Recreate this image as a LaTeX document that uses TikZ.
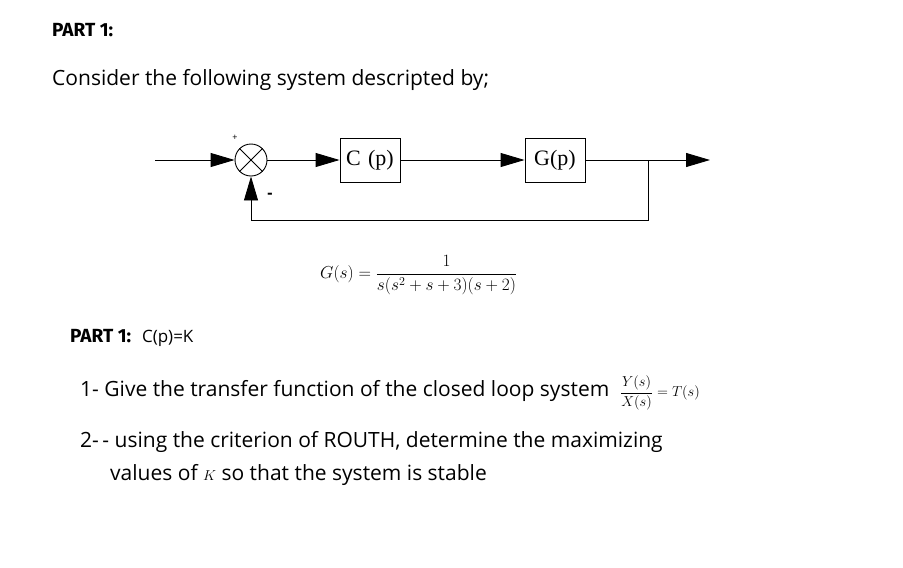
\documentclass[tikz,border=0pt]{standalone}
\usepackage{amsmath}
\usepackage{fontspec}
\setmainfont{Open Sans}
\newfontfamily\partfont{Fira Sans}
\newfontfamily\tms{Liberation Serif}
\usetikzlibrary{arrows.meta}
\begin{document}
\begin{tikzpicture}[x=1pt,y=-1pt,
  blk/.style={draw,line width=0.9pt,minimum width=60pt,minimum height=44pt,inner sep=0pt,font=\tms\fontsize{22}{24}\selectfont},
  sig/.style={line width=0.9pt,-{Triangle[length=24pt,width=14pt]}},
  txt/.style={anchor=west,inner sep=0pt,font=\fontsize{21}{24}\selectfont}]
\useasboundingbox (0,0) rectangle (903,568);
\node[txt,font=\partfont\bfseries\fontsize{19}{22}\selectfont] (p1) at (52,30) {PART 1:};
\node[txt] (t1) at (52,80) {Consider the following system descripted by;};
\node[draw,circle,line width=0.9pt,minimum size=32pt,inner sep=0pt] (s) at (251,160) {};
\draw[line width=0.9pt] (s.north west)--(s.south east) (s.north east)--(s.south west);
\node[font=\fontsize{9}{9}\selectfont] (pl) at (235,138) {+};
\node[font=\bfseries\fontsize{16}{16}\selectfont] (mi) at (270,196) {-};
\node[blk] (c) at (370,160) {C\,\,(p)};
\node[blk] (g) at (555,160) {G(p)};
\coordinate (in) at (155,160);
\coordinate (out) at (710,160);
\coordinate (br) at (648,160);
\coordinate (fb) at (648,220);
\coordinate (fb2) at (251,220);
\draw[sig] (in) -- (s.west);
\draw[sig] (s.east) -- (c.west);
\draw[sig] (c.east) -- (g.west);
\draw[sig] (g.east) -- (out);
\draw[sig] (br) -- (fb) -- (fb2) -- (s.south);
\node[anchor=west,inner sep=0pt,font=\fontsize{17}{20}\selectfont] (eq) at (320,275) {$G(s)=\dfrac{1}{s(s^2+s+3)(s+2)}$};
\node[txt] (p2) at (70,338) {{\partfont\bfseries\fontsize{19}{22}\selectfont PART 1:}\ \ {\fontsize{17}{20}\selectfont C(p)=K}};
\node[txt] (q1) at (80,393) {1- Give the transfer function of the closed loop system \ {\fontsize{15}{18}\selectfont$\dfrac{Y(s)}{X(s)}=T(s)$}};
\node[txt] (q2) at (80,442) {2-\,- using the criterion of ROUTH, determine the maximizing};
\node[txt] (q3) at (110,475) {values of {\fontsize{15}{18}\selectfont$K$} so that the system is stable};
\end{tikzpicture}
\end{document}
